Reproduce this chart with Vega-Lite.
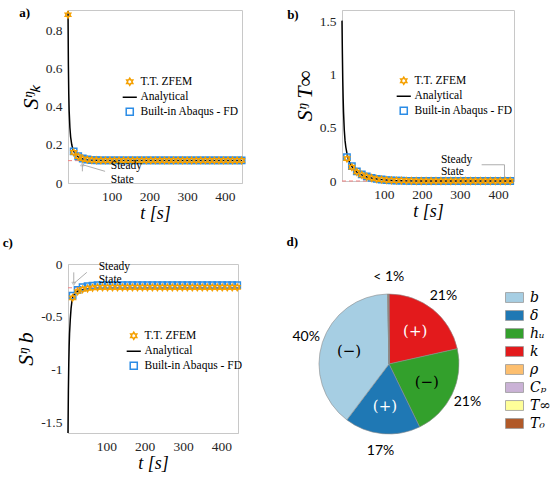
{
  "$schema": "https://vega.github.io/schema/vega-lite/v6.json",
  "padding": {"left": 2, "top": 6, "right": 0, "bottom": 0},
  "config": {
    "font": "Times New Roman",
    "view": {"stroke": "#c8c8c8"},
    "axis": {
      "labelFont": "Times New Roman", "labelFontSize": 13.5, "labelColor": "#262626",
      "titleFont": "Times New Roman", "titleFontStyle": "italic", "titleFontWeight": "normal",
      "titleFontSize": 18, "titleColor": "#000000", "grid": false, "ticks": false,
      "domainColor": "#c8c8c8", "labelPadding": 6
    },
    "axisX": {"titlePadding": 2},
    "axisY": {"titleFontSize": 22, "titlePadding": 3},
    "title": {"anchor": "start", "frame": "bounds", "font": "Times New Roman", "fontSize": 13, "fontWeight": "bold", "offset": 4},
    "legend": {"title": null, "padding": 0}
  },
  "columns": 2,
  "align": "none",
  "spacing": {"row": 13, "column": 37},
  "resolve": {"scale": {"color": "independent", "shape": "independent"}, "legend": {"color": "independent", "shape": "independent"}},
  "concat": [
        {
          "title": {"text": "a)", "dx": 0, "dy": 16},
          "width": 174, "height": 173,
          "data": {"values": [
            {"s": "Z", "t": -15, "v": 0.88},
            {"s": "Z", "t": 0, "v": 0.16}, {"s": "Z", "t": 12, "v": 0.138}, {"s": "Z", "t": 24, "v": 0.127},
            {"s": "Z", "t": 36, "v": 0.122}, {"s": "Z", "t": 48, "v": 0.12}, {"s": "Z", "t": 60, "v": 0.119},
            {"s": "Z", "t": 72, "v": 0.118}, {"s": "Z", "t": 84, "v": 0.118}, {"s": "Z", "t": 96, "v": 0.118},
            {"s": "Z", "t": 108, "v": 0.118}, {"s": "Z", "t": 120, "v": 0.118}, {"s": "Z", "t": 132, "v": 0.118},
            {"s": "Z", "t": 144, "v": 0.118}, {"s": "Z", "t": 156, "v": 0.118}, {"s": "Z", "t": 168, "v": 0.118},
            {"s": "Z", "t": 180, "v": 0.118}, {"s": "Z", "t": 192, "v": 0.118}, {"s": "Z", "t": 204, "v": 0.118},
            {"s": "Z", "t": 216, "v": 0.118}, {"s": "Z", "t": 228, "v": 0.118}, {"s": "Z", "t": 240, "v": 0.118},
            {"s": "Z", "t": 252, "v": 0.118}, {"s": "Z", "t": 264, "v": 0.118}, {"s": "Z", "t": 276, "v": 0.118},
            {"s": "Z", "t": 288, "v": 0.118}, {"s": "Z", "t": 300, "v": 0.118}, {"s": "Z", "t": 312, "v": 0.118},
            {"s": "Z", "t": 324, "v": 0.118}, {"s": "Z", "t": 336, "v": 0.118}, {"s": "Z", "t": 348, "v": 0.118},
            {"s": "Z", "t": 360, "v": 0.118}, {"s": "Z", "t": 372, "v": 0.118}, {"s": "Z", "t": 384, "v": 0.118},
            {"s": "Z", "t": 396, "v": 0.118}, {"s": "Z", "t": 408, "v": 0.118}, {"s": "Z", "t": 420, "v": 0.118},
            {"s": "Z", "t": 432, "v": 0.118}, {"s": "Z", "t": 444, "v": 0.118},
            {"s": "F", "t": 0, "v": 0.165}, {"s": "F", "t": 12, "v": 0.14}, {"s": "F", "t": 24, "v": 0.128},
            {"s": "F", "t": 36, "v": 0.123}, {"s": "F", "t": 48, "v": 0.12}, {"s": "F", "t": 60, "v": 0.119},
            {"s": "F", "t": 72, "v": 0.118}, {"s": "F", "t": 84, "v": 0.118}, {"s": "F", "t": 96, "v": 0.118},
            {"s": "F", "t": 108, "v": 0.118}, {"s": "F", "t": 120, "v": 0.118}, {"s": "F", "t": 132, "v": 0.118},
            {"s": "F", "t": 144, "v": 0.118}, {"s": "F", "t": 156, "v": 0.118}, {"s": "F", "t": 168, "v": 0.118},
            {"s": "F", "t": 180, "v": 0.118}, {"s": "F", "t": 192, "v": 0.118}, {"s": "F", "t": 204, "v": 0.118},
            {"s": "F", "t": 216, "v": 0.118}, {"s": "F", "t": 228, "v": 0.118}, {"s": "F", "t": 240, "v": 0.118},
            {"s": "F", "t": 252, "v": 0.118}, {"s": "F", "t": 264, "v": 0.118}, {"s": "F", "t": 276, "v": 0.118},
            {"s": "F", "t": 288, "v": 0.118}, {"s": "F", "t": 300, "v": 0.118}, {"s": "F", "t": 312, "v": 0.118},
            {"s": "F", "t": 324, "v": 0.118}, {"s": "F", "t": 336, "v": 0.118}, {"s": "F", "t": 348, "v": 0.118},
            {"s": "F", "t": 360, "v": 0.118}, {"s": "F", "t": 372, "v": 0.118}, {"s": "F", "t": 384, "v": 0.118},
            {"s": "F", "t": 396, "v": 0.118}, {"s": "F", "t": 408, "v": 0.118}, {"s": "F", "t": 420, "v": 0.118},
            {"s": "F", "t": 432, "v": 0.118}, {"s": "F", "t": 444, "v": 0.118},
            {"s": "A", "t": -15, "v": 0.9}, {"s": "A", "t": -14, "v": 0.62}, {"s": "A", "t": -13, "v": 0.47},
            {"s": "A", "t": -12, "v": 0.38}, {"s": "A", "t": -10, "v": 0.29}, {"s": "A", "t": -8, "v": 0.24},
            {"s": "A", "t": -5, "v": 0.2}, {"s": "A", "t": -2, "v": 0.176}, {"s": "A", "t": 0, "v": 0.166},
            {"s": "A", "t": 4, "v": 0.153}, {"s": "A", "t": 8, "v": 0.144}, {"s": "A", "t": 12, "v": 0.137},
            {"s": "A", "t": 18, "v": 0.13}, {"s": "A", "t": 24, "v": 0.126}, {"s": "A", "t": 32, "v": 0.122},
            {"s": "A", "t": 45, "v": 0.12}, {"s": "A", "t": 60, "v": 0.119}, {"s": "A", "t": 80, "v": 0.118},
            {"s": "A", "t": 445, "v": 0.118}
          ]},
          "encoding": {
            "x": {"field": "t", "type": "quantitative", "scale": {"domain": [-15, 445], "nice": false, "zero": false},
                  "axis": {"values": [100, 200, 300, 400], "title": "t [s]"}},
            "y": {"field": "v", "type": "quantitative", "scale": {"domain": [0, 0.905], "nice": false},
                  "axis": {"values": [0, 0.2, 0.4, 0.6, 0.8], "labelExpr": "datum.value + ''", "title": "Sᵑₖ"}}
          },
          "layer": [
            {"data": {"values": [{"t": -15, "v": 0.117}, {"t": 445, "v": 0.117}]},
             "mark": {"type": "line", "color": "#f08080", "strokeDash": [4, 3], "strokeWidth": 1}},
            {"transform": [{"filter": "datum.s === 'A'"}],
             "mark": {"type": "line", "strokeWidth": 1.5},
             "encoding": {"color": {"field": "s", "type": "nominal",
               "scale": {"domain": ["Z", "A", "F"], "range": ["#f5a000", "#000000", "#2b8ce6"]},
               "legend": {"orient": "none", "legendX": 56, "legendY": 66, "labelExpr": "{'Z': 'T.T.  ZFEM', 'A': 'Analytical', 'F': 'Built-in Abaqus - FD'}[datum.label]", "labelFont": "Times New Roman", "labelFontSize": 11.5, "labelColor": "#000000", "symbolSize": 50, "symbolStrokeWidth": 1.5, "symbolFillColor": "transparent", "rowPadding": 1.5, "labelOffset": 5}}}},
            {"transform": [{"filter": "datum.s !== 'A'"}],
             "mark": {"type": "point", "filled": false, "strokeWidth": 1.5, "size": 40, "opacity": 1},
             "encoding": {
               "color": {"field": "s", "type": "nominal",
                 "scale": {"domain": ["Z", "A", "F"], "range": ["#f5a000", "#000000", "#2b8ce6"]},
                 "legend": {"orient": "none", "legendX": 56, "legendY": 66, "labelExpr": "{'Z': 'T.T.  ZFEM', 'A': 'Analytical', 'F': 'Built-in Abaqus - FD'}[datum.label]", "labelFont": "Times New Roman", "labelFontSize": 11.5, "labelColor": "#000000", "symbolSize": 50, "symbolStrokeWidth": 1.5, "symbolFillColor": "transparent", "rowPadding": 1.5, "labelOffset": 5}},
               "shape": {"field": "s", "type": "nominal",
                 "scale": {"domain": ["Z", "A", "F"], "range": ["M0,-1L0.289,-0.5L0.866,-0.5L0.577,0L0.866,0.5L0.289,0.5L0,1L-0.289,0.5L-0.866,0.5L-0.577,0L-0.866,-0.5L-0.289,-0.5Z", "M-2,0H2", "square"]},
                 "legend": {"orient": "none", "legendX": 56, "legendY": 66, "labelExpr": "{'Z': 'T.T.  ZFEM', 'A': 'Analytical', 'F': 'Built-in Abaqus - FD'}[datum.label]", "labelFont": "Times New Roman", "labelFontSize": 11.5, "labelColor": "#000000", "symbolSize": 50, "symbolStrokeWidth": 1.5, "symbolFillColor": "transparent", "rowPadding": 1.5, "labelOffset": 5}},
               "order": {"field": "s", "type": "nominal", "sort": "ascending"}
             }},
            {"data": {"values": [{"t": 83, "v": 0.061}, {"t": 23, "v": 0.061}, {"t": 23, "v": 0.096}]},
             "mark": {"type": "line", "color": "#999999", "strokeWidth": 0.8}},
            {"data": {"values": [{"t": 23, "v": 0.098}]},
             "mark": {"type": "point", "shape": "triangle-up", "size": 14, "color": "#999999", "filled": false, "strokeWidth": 0.8}},
            {"data": {"values": [{"t": 98, "v": 0.089, "txt": "Steady"}, {"t": 98, "v": 0.018, "txt": "State"}]},
             "mark": {"type": "text", "align": "left", "baseline": "middle", "font": "Times New Roman", "fontSize": 11.5, "color": "#000000"},
             "encoding": {"text": {"field": "txt"}}}
          ]
        },
        {
          "title": {"text": "b)", "dx": -6, "dy": 16},
          "width": 172, "height": 171,
          "data": {"values": [
            {"s": "Z", "t": 3, "v": 0.21}, {"s": "Z", "t": 16, "v": 0.13}, {"s": "Z", "t": 29, "v": 0.085},
            {"s": "Z", "t": 42, "v": 0.058}, {"s": "Z", "t": 55, "v": 0.04}, {"s": "Z", "t": 68, "v": 0.028},
            {"s": "Z", "t": 81, "v": 0.019}, {"s": "Z", "t": 94, "v": 0.013}, {"s": "Z", "t": 107, "v": 0.009},
            {"s": "Z", "t": 120, "v": 0.006}, {"s": "Z", "t": 133, "v": 0.004}, {"s": "Z", "t": 146, "v": 0.003},
            {"s": "Z", "t": 159, "v": 0.002}, {"s": "Z", "t": 172, "v": 0.001}, {"s": "Z", "t": 185, "v": 0},
            {"s": "Z", "t": 198, "v": 0}, {"s": "Z", "t": 211, "v": 0}, {"s": "Z", "t": 224, "v": 0},
            {"s": "Z", "t": 237, "v": 0}, {"s": "Z", "t": 250, "v": 0}, {"s": "Z", "t": 263, "v": 0},
            {"s": "Z", "t": 276, "v": 0}, {"s": "Z", "t": 289, "v": 0}, {"s": "Z", "t": 302, "v": 0},
            {"s": "Z", "t": 315, "v": 0}, {"s": "Z", "t": 328, "v": 0}, {"s": "Z", "t": 341, "v": 0},
            {"s": "Z", "t": 354, "v": 0}, {"s": "Z", "t": 367, "v": 0}, {"s": "Z", "t": 380, "v": 0},
            {"s": "Z", "t": 393, "v": 0}, {"s": "Z", "t": 406, "v": 0}, {"s": "Z", "t": 419, "v": 0},
            {"s": "Z", "t": 432, "v": 0},
            {"s": "F", "t": 3, "v": 0.225}, {"s": "F", "t": 16, "v": 0.14}, {"s": "F", "t": 29, "v": 0.09},
            {"s": "F", "t": 42, "v": 0.062}, {"s": "F", "t": 55, "v": 0.043}, {"s": "F", "t": 68, "v": 0.03},
            {"s": "F", "t": 81, "v": 0.02}, {"s": "F", "t": 94, "v": 0.014}, {"s": "F", "t": 107, "v": 0.009},
            {"s": "F", "t": 120, "v": 0.006}, {"s": "F", "t": 133, "v": 0.004}, {"s": "F", "t": 146, "v": 0.003},
            {"s": "F", "t": 159, "v": 0.002}, {"s": "F", "t": 172, "v": 0.001}, {"s": "F", "t": 185, "v": 0},
            {"s": "F", "t": 198, "v": 0}, {"s": "F", "t": 211, "v": 0}, {"s": "F", "t": 224, "v": 0},
            {"s": "F", "t": 237, "v": 0}, {"s": "F", "t": 250, "v": 0}, {"s": "F", "t": 263, "v": 0},
            {"s": "F", "t": 276, "v": 0}, {"s": "F", "t": 289, "v": 0}, {"s": "F", "t": 302, "v": 0},
            {"s": "F", "t": 315, "v": 0}, {"s": "F", "t": 328, "v": 0}, {"s": "F", "t": 341, "v": 0},
            {"s": "F", "t": 354, "v": 0}, {"s": "F", "t": 367, "v": 0}, {"s": "F", "t": 380, "v": 0},
            {"s": "F", "t": 393, "v": 0}, {"s": "F", "t": 406, "v": 0}, {"s": "F", "t": 419, "v": 0},
            {"s": "F", "t": 432, "v": 0},
            {"s": "A", "t": -10, "v": 1.51}, {"s": "A", "t": -9, "v": 1.2}, {"s": "A", "t": -8, "v": 0.95},
            {"s": "A", "t": -7, "v": 0.78}, {"s": "A", "t": -6, "v": 0.65}, {"s": "A", "t": -4, "v": 0.48},
            {"s": "A", "t": -2, "v": 0.38}, {"s": "A", "t": 0, "v": 0.32}, {"s": "A", "t": 3, "v": 0.26},
            {"s": "A", "t": 7, "v": 0.2}, {"s": "A", "t": 12, "v": 0.16}, {"s": "A", "t": 18, "v": 0.125},
            {"s": "A", "t": 25, "v": 0.097}, {"s": "A", "t": 30, "v": 0.082}, {"s": "A", "t": 40, "v": 0.06},
            {"s": "A", "t": 55, "v": 0.038}, {"s": "A", "t": 70, "v": 0.025}, {"s": "A", "t": 85, "v": 0.017},
            {"s": "A", "t": 100, "v": 0.011}, {"s": "A", "t": 125, "v": 0.005}, {"s": "A", "t": 150, "v": 0.002},
            {"s": "A", "t": 200, "v": 0.0005}, {"s": "A", "t": 442, "v": 0}
          ]},
          "encoding": {
            "x": {"field": "t", "type": "quantitative", "scale": {"domain": [-10, 442], "nice": false, "zero": false},
                  "axis": {"values": [100, 200, 300, 400], "title": "t [s]"}},
            "y": {"field": "v", "type": "quantitative", "scale": {"domain": [0, 1.61], "nice": false},
                  "axis": {"values": [0, 0.5, 1, 1.5], "labelExpr": "datum.value + ''", "title": "Sᵑ T∞"}}
          },
          "layer": [
            {"data": {"values": [{"t": -10, "v": 0}, {"t": 442, "v": 0}]},
             "mark": {"type": "line", "color": "#f08080", "strokeDash": [4, 3], "strokeWidth": 1}},
            {"transform": [{"filter": "datum.s === 'A'"}],
             "mark": {"type": "line", "strokeWidth": 1.5},
             "encoding": {"color": {"field": "s", "type": "nominal",
               "scale": {"domain": ["Z", "A", "F"], "range": ["#f5a000", "#000000", "#2b8ce6"]},
               "legend": {"orient": "none", "legendX": 56, "legendY": 65, "labelExpr": "{'Z': 'T.T.  ZFEM', 'A': 'Analytical', 'F': 'Built-in Abaqus - FD'}[datum.label]", "labelFont": "Times New Roman", "labelFontSize": 11.5, "labelColor": "#000000", "symbolSize": 50, "symbolStrokeWidth": 1.5, "symbolFillColor": "transparent", "rowPadding": 1.5, "labelOffset": 5}}}},
            {"transform": [{"filter": "datum.s !== 'A'"}],
             "mark": {"type": "point", "filled": false, "strokeWidth": 1.5, "size": 40, "opacity": 1},
             "encoding": {
               "color": {"field": "s", "type": "nominal",
                 "scale": {"domain": ["Z", "A", "F"], "range": ["#f5a000", "#000000", "#2b8ce6"]},
                 "legend": {"orient": "none", "legendX": 56, "legendY": 65, "labelExpr": "{'Z': 'T.T.  ZFEM', 'A': 'Analytical', 'F': 'Built-in Abaqus - FD'}[datum.label]", "labelFont": "Times New Roman", "labelFontSize": 11.5, "labelColor": "#000000", "symbolSize": 50, "symbolStrokeWidth": 1.5, "symbolFillColor": "transparent", "rowPadding": 1.5, "labelOffset": 5}},
               "shape": {"field": "s", "type": "nominal",
                 "scale": {"domain": ["Z", "A", "F"], "range": ["M0,-1L0.289,-0.5L0.866,-0.5L0.577,0L0.866,0.5L0.289,0.5L0,1L-0.289,0.5L-0.866,0.5L-0.577,0L-0.866,-0.5L-0.289,-0.5Z", "M-2,0H2", "square"]},
                 "legend": {"orient": "none", "legendX": 56, "legendY": 65, "labelExpr": "{'Z': 'T.T.  ZFEM', 'A': 'Analytical', 'F': 'Built-in Abaqus - FD'}[datum.label]", "labelFont": "Times New Roman", "labelFontSize": 11.5, "labelColor": "#000000", "symbolSize": 50, "symbolStrokeWidth": 1.5, "symbolFillColor": "transparent", "rowPadding": 1.5, "labelOffset": 5}},
               "order": {"field": "s", "type": "nominal", "sort": "ascending"}
             }},
            {"data": {"values": [{"t": 357, "v": 0.153}, {"t": 417, "v": 0.153}, {"t": 417, "v": 0.038}]},
             "mark": {"type": "line", "color": "#999999", "strokeWidth": 0.8}},
            {"data": {"values": [{"t": 250, "v": 0.2, "txt": "Steady"}, {"t": 250, "v": 0.085, "txt": "State"}]},
             "mark": {"type": "text", "align": "left", "baseline": "middle", "font": "Times New Roman", "fontSize": 11.5, "color": "#000000"},
             "encoding": {"text": {"field": "txt"}}}
          ]
        },
        {
          "title": {"text": "c)", "dx": -12, "dy": 0, "offset": 7},
          "width": 170, "height": 169,
          "data": {"values": [
            {"s": "Z", "t": 12, "v": -0.32}, {"s": "Z", "t": 25, "v": -0.26}, {"s": "Z", "t": 38, "v": -0.24},
            {"s": "Z", "t": 51, "v": -0.232}, {"s": "Z", "t": 64, "v": -0.226}, {"s": "Z", "t": 77, "v": -0.222},
            {"s": "Z", "t": 90, "v": -0.222}, {"s": "Z", "t": 103, "v": -0.222}, {"s": "Z", "t": 116, "v": -0.222},
            {"s": "Z", "t": 129, "v": -0.222}, {"s": "Z", "t": 142, "v": -0.222}, {"s": "Z", "t": 155, "v": -0.222},
            {"s": "Z", "t": 168, "v": -0.222}, {"s": "Z", "t": 181, "v": -0.222}, {"s": "Z", "t": 194, "v": -0.222},
            {"s": "Z", "t": 207, "v": -0.222}, {"s": "Z", "t": 220, "v": -0.222}, {"s": "Z", "t": 233, "v": -0.222},
            {"s": "Z", "t": 246, "v": -0.222}, {"s": "Z", "t": 259, "v": -0.222}, {"s": "Z", "t": 272, "v": -0.222},
            {"s": "Z", "t": 285, "v": -0.222}, {"s": "Z", "t": 298, "v": -0.222}, {"s": "Z", "t": 311, "v": -0.222},
            {"s": "Z", "t": 324, "v": -0.222}, {"s": "Z", "t": 337, "v": -0.222}, {"s": "Z", "t": 350, "v": -0.222},
            {"s": "Z", "t": 363, "v": -0.222}, {"s": "Z", "t": 376, "v": -0.222}, {"s": "Z", "t": 389, "v": -0.222},
            {"s": "Z", "t": 402, "v": -0.222}, {"s": "Z", "t": 415, "v": -0.222}, {"s": "Z", "t": 428, "v": -0.222},
            {"s": "Z", "t": 441, "v": -0.222},
            {"s": "F", "t": 12, "v": -0.3}, {"s": "F", "t": 25, "v": -0.245}, {"s": "F", "t": 38, "v": -0.22},
            {"s": "F", "t": 51, "v": -0.21}, {"s": "F", "t": 64, "v": -0.205}, {"s": "F", "t": 77, "v": -0.2},
            {"s": "F", "t": 90, "v": -0.2}, {"s": "F", "t": 103, "v": -0.2}, {"s": "F", "t": 116, "v": -0.2},
            {"s": "F", "t": 129, "v": -0.2}, {"s": "F", "t": 142, "v": -0.2}, {"s": "F", "t": 155, "v": -0.2},
            {"s": "F", "t": 168, "v": -0.2}, {"s": "F", "t": 181, "v": -0.2}, {"s": "F", "t": 194, "v": -0.2},
            {"s": "F", "t": 207, "v": -0.2}, {"s": "F", "t": 220, "v": -0.2}, {"s": "F", "t": 233, "v": -0.2},
            {"s": "F", "t": 246, "v": -0.2}, {"s": "F", "t": 259, "v": -0.2}, {"s": "F", "t": 272, "v": -0.2},
            {"s": "F", "t": 285, "v": -0.2}, {"s": "F", "t": 298, "v": -0.2}, {"s": "F", "t": 311, "v": -0.2},
            {"s": "F", "t": 324, "v": -0.2}, {"s": "F", "t": 337, "v": -0.2}, {"s": "F", "t": 350, "v": -0.2},
            {"s": "F", "t": 363, "v": -0.2}, {"s": "F", "t": 376, "v": -0.2}, {"s": "F", "t": 389, "v": -0.2},
            {"s": "F", "t": 402, "v": -0.2}, {"s": "F", "t": 415, "v": -0.2}, {"s": "F", "t": 428, "v": -0.2},
            {"s": "F", "t": 441, "v": -0.2},
            {"s": "A", "t": 0, "v": -1.6}, {"s": "A", "t": 1, "v": -1.2}, {"s": "A", "t": 2, "v": -0.95},
            {"s": "A", "t": 3, "v": -0.78}, {"s": "A", "t": 4, "v": -0.66}, {"s": "A", "t": 6, "v": -0.52},
            {"s": "A", "t": 8, "v": -0.42}, {"s": "A", "t": 10, "v": -0.36}, {"s": "A", "t": 12, "v": -0.32},
            {"s": "A", "t": 16, "v": -0.288}, {"s": "A", "t": 20, "v": -0.27}, {"s": "A", "t": 26, "v": -0.255},
            {"s": "A", "t": 34, "v": -0.245}, {"s": "A", "t": 45, "v": -0.238}, {"s": "A", "t": 60, "v": -0.234},
            {"s": "A", "t": 80, "v": -0.232}, {"s": "A", "t": 443, "v": -0.232}
          ]},
          "encoding": {
            "x": {"field": "t", "type": "quantitative", "scale": {"domain": [0, 443], "nice": false, "zero": false},
                  "axis": {"values": [100, 200, 300, 400], "title": "t [s]"}},
            "y": {"field": "v", "type": "quantitative", "scale": {"domain": [-1.6, 0], "nice": false},
                  "axis": {"values": [-1.5, -1, -0.5, 0], "labelExpr": "datum.value + ''", "title": "Sᵑ b"}}
          },
          "layer": [
            {"data": {"values": [{"t": 0, "v": -0.225}, {"t": 443, "v": -0.225}]},
             "mark": {"type": "line", "color": "#f08080", "strokeDash": [4, 3], "strokeWidth": 1}},
            {"transform": [{"filter": "datum.s === 'A'"}],
             "mark": {"type": "line", "strokeWidth": 1.5},
             "encoding": {"color": {"field": "s", "type": "nominal",
               "scale": {"domain": ["Z", "A", "F"], "range": ["#f5a000", "#000000", "#2b8ce6"]},
               "legend": {"orient": "none", "legendX": 60, "legendY": 66, "labelExpr": "{'Z': 'T.T.  ZFEM', 'A': 'Analytical', 'F': 'Built-in Abaqus - FD'}[datum.label]", "labelFont": "Times New Roman", "labelFontSize": 11.5, "labelColor": "#000000", "symbolSize": 50, "symbolStrokeWidth": 1.5, "symbolFillColor": "transparent", "rowPadding": 1.5, "labelOffset": 5}}}},
            {"transform": [{"filter": "datum.s !== 'A'"}],
             "mark": {"type": "point", "filled": false, "strokeWidth": 1.5, "size": 40, "opacity": 1},
             "encoding": {
               "color": {"field": "s", "type": "nominal",
                 "scale": {"domain": ["Z", "A", "F"], "range": ["#f5a000", "#000000", "#2b8ce6"]},
                 "legend": {"orient": "none", "legendX": 60, "legendY": 66, "labelExpr": "{'Z': 'T.T.  ZFEM', 'A': 'Analytical', 'F': 'Built-in Abaqus - FD'}[datum.label]", "labelFont": "Times New Roman", "labelFontSize": 11.5, "labelColor": "#000000", "symbolSize": 50, "symbolStrokeWidth": 1.5, "symbolFillColor": "transparent", "rowPadding": 1.5, "labelOffset": 5}},
               "shape": {"field": "s", "type": "nominal",
                 "scale": {"domain": ["Z", "A", "F"], "range": ["M0,-1L0.289,-0.5L0.866,-0.5L0.577,0L0.866,0.5L0.289,0.5L0,1L-0.289,0.5L-0.866,0.5L-0.577,0L-0.866,-0.5L-0.289,-0.5Z", "M-2,0H2", "square"]},
                 "legend": {"orient": "none", "legendX": 60, "legendY": 66, "labelExpr": "{'Z': 'T.T.  ZFEM', 'A': 'Analytical', 'F': 'Built-in Abaqus - FD'}[datum.label]", "labelFont": "Times New Roman", "labelFontSize": 11.5, "labelColor": "#000000", "symbolSize": 50, "symbolStrokeWidth": 1.5, "symbolFillColor": "transparent", "rowPadding": 1.5, "labelOffset": 5}},
               "order": {"field": "s", "type": "nominal", "sort": "ascending"}
             }},
            {"data": {"values": [{"t": 49, "v": -0.079}, {"t": 15, "v": -0.079}, {"t": 15, "v": -0.185}]},
             "mark": {"type": "line", "color": "#999999", "strokeWidth": 0.8}},
            {"data": {"values": [{"t": 15, "v": -0.188}]},
             "mark": {"type": "point", "shape": "triangle-down", "size": 14, "color": "#999999", "filled": false, "strokeWidth": 0.8}},
            {"data": {"values": [{"t": 80, "v": -0.025, "txt": "Steady"}, {"t": 80, "v": -0.15, "txt": "State"}]},
             "mark": {"type": "text", "align": "left", "baseline": "middle", "font": "Times New Roman", "fontSize": 11.5, "color": "#000000"},
             "encoding": {"text": {"field": "txt"}}}
          ]
        },
        {
          "title": {"text": "d)", "dx": -6, "dy": 0, "offset": 16},
          "width": 190, "height": 198,
          "view": {"stroke": null},
          "data": {"values": [
            {"p": "k", "val": 21.5, "ord": 1, "pct": "21%", "sign": "(+)"},
            {"p": "hᵤ", "val": 21.3, "ord": 2, "pct": "21%", "sign": "(−)"},
            {"p": "δ", "val": 17.5, "ord": 3, "pct": "17%", "sign": "(+)"},
            {"p": "b", "val": 39.4, "ord": 4, "pct": "40%", "sign": "(−)"},
            {"p": "ρ", "val": 0.08, "ord": 5, "pct": "", "sign": ""},
            {"p": "Cₚ", "val": 0.08, "ord": 6, "pct": "", "sign": ""},
            {"p": "T∞", "val": 0.08, "ord": 7, "pct": "", "sign": ""},
            {"p": "T₀", "val": 0.08, "ord": 8, "pct": "< 1%", "sign": ""}
          ]},
          "encoding": {
            "theta": {"field": "val", "type": "quantitative", "stack": true},
            "order": {"field": "ord", "type": "quantitative"}
          },
          "layer": [
            {"mark": {"type": "arc", "radius": 70, "stroke": "#8c8c8c", "strokeWidth": 0.6},
             "encoding": {"color": {"field": "p", "type": "nominal",
               "scale": {"domain": ["b", "δ", "hᵤ", "k", "ρ", "Cₚ", "T∞", "T₀"],
                         "range": ["#a6cee3", "#1f78b4", "#33a02c", "#e31a1c", "#fdbf6f", "#cab2d6", "#ffff99", "#b15928"]},
               "legend": {"orient": "none", "legendX": 211, "legendY": 23, "symbolType": "M-1,-0.55H1V0.55H-1Z", "symbolSize": 324, "symbolStrokeColor": "#999999", "symbolStrokeWidth": 0.8, "labelFont": "DejaVu Serif", "labelFontStyle": "italic", "labelFontSize": 14, "labelColor": "#000000", "rowPadding": 1, "labelOffset": 6}}}},
            {"mark": {"type": "text", "radius": 87, "font": "Lato", "fontSize": 14, "color": "#000000"},
             "encoding": {"text": {"field": "pct"}}},
            {"mark": {"type": "text", "radius": 42, "font": "DejaVu Serif", "fontSize": 15},
             "encoding": {"text": {"field": "sign"},
               "color": {"condition": {"test": "datum.p === 'k' || datum.p === 'δ'", "value": "#ffffff"}, "value": "#000000"}}}
          ]
        }
  ]
}
